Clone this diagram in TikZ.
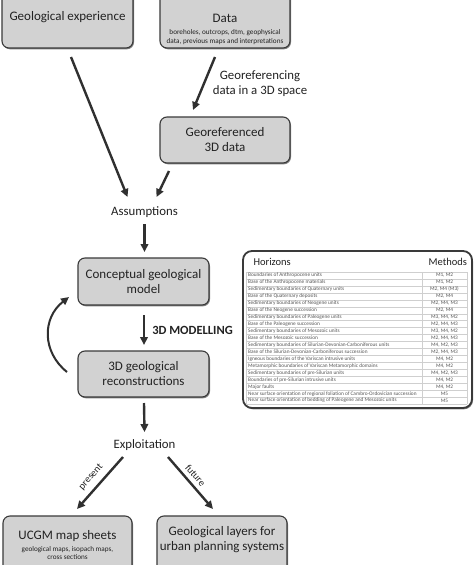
\documentclass[tikz,border=0pt]{standalone}
\usepackage{fontspec}
\setmainfont{Carlito}
\usetikzlibrary{arrows.meta,shadows,calc}
\definecolor{boxfill}{HTML}{D2D2D2}
\definecolor{boxline}{HTML}{3A3A3A}
\definecolor{arr}{HTML}{303030}
\definecolor{gridc}{HTML}{CFCFCF}
\definecolor{txt}{HTML}{222222}
\definecolor{ttxt}{HTML}{555555}
\begin{document}
\begin{tikzpicture}[x=1pt,y=-1pt,
  box/.style={draw=boxline, fill=boxfill, line width=1.1pt, rounded corners=7pt,
    drop shadow={shadow xshift=1pt, shadow yshift=-1.3pt, fill=black!70, opacity=0.7}},
  big/.style={font=\fontsize{13}{15}\selectfont, align=center, text=txt},
  small/.style={font=\fontsize{7.2}{8.5}\selectfont, align=center, text=txt},
  lbl/.style={font=\fontsize{12.8}{15}\selectfont, align=center, text=txt},
  arlbl/.style={font=\fontsize{10}{12}\selectfont, text=txt},
  arrow/.style={draw=arr, line width=2.4pt, -{Triangle[length=8pt,width=7.5pt]}},
  tt/.style={font=\fontsize{5.3}{6}\selectfont, text=ttxt, inner sep=0pt},
  gridline/.style={draw=gridc, line width=0.4pt}]
\useasboundingbox (0,0) rectangle (474,565);
\fill[white] (0,0) rectangle (474,565);

% top boxes
\node[box, big, minimum width=131, minimum height=62] (geo) at (67.5,17) {Geological experience};
\node[box, minimum width=130, minimum height=62] (data) at (225,17) {};
\node[big] (datat) at (225,18) {Data};
\node[small] (datas) at (225,37) {boreholes, outcrops, dtm, geophysical\\data, previous maps and interpretations};

\node[lbl] (georeflbl) at (260,83.5) {Georeferencing\\data in a 3D space};
\node[box, big, minimum width=130, minimum height=46] (georef) at (225,140) {Georeferenced\\3D data};

\node[lbl] (assump) at (144.5,212) {Assumptions};

\node[box, big, minimum width=131, minimum height=47] (concept) at (143.5,281.5) {Conceptual geological\\model};
\node[font=\fontsize{12.5}{14}\selectfont\bfseries, text=txt] (mod) at (192.5,330) {3D MODELLING};
\node[box, big, minimum width=131, minimum height=46] (recon) at (143.5,374) {3D geological\\reconstructions};

\node[lbl] (exploit) at (144.5,445) {Exploitation};

\node[box, minimum width=129, minimum height=56] (ucgm) at (67.5,544) {};
\node[big] (ucgmt) at (67.5,536) {UCGM map sheets};
\node[small] (ucgms) at (67.5,553) {geological maps, isopach maps,\\cross sections};
\node[box, big, minimum width=130, minimum height=56] (layers) at (222,544) {};
\node[big] (layerst) at (222,539.5) {Geological layers for\\urban planning systems};

% arrows
\draw[arrow] ($(geo.center)+(3.5,40)$) -- ($(assump.center)+(-17,-15)$);
\draw[arrow] ($(data.center)+(-10,40)$) -- ($(georef.center)+(-32,-30)$);
\draw[arrow] ($(georef.center)+(-56,31)$) -- ($(assump.center)+(12,-15)$);
\draw[arrow] ($(assump.center)+(0,12)$) -- ($(concept.center)+(1,-29.5)$);
\draw[arrow] ($(concept.center)+(0.5,33.5)$) -- ($(recon.center)+(0.5,-29)$);
\draw[arrow] ($(recon.center)+(0.5,29)$) -- ($(exploit.center)+(0,-13)$);
\draw[arrow] ($(exploit.center)+(-21.5,12)$) -- ($(ucgm.center)+(9.5,-35)$);
\draw[arrow] ($(exploit.center)+(23.5,12)$) -- ($(layers.center)+(-9,-35)$);
\draw[arrow, line width=2pt] ($(recon.center)+(-76.5,-2)$) .. controls (42,352) and (42,318) .. ($(concept.center)+(-74.5,15.5)$);

\node[arlbl, rotate=48.5] (present) at (91,477) {present};
\node[arlbl, rotate=-49] (future) at (195.5,475.5) {future};

% table
\node[draw=boxline, line width=1.8pt, rounded corners=9pt, fill=white, minimum width=229, minimum height=157,
  drop shadow={shadow xshift=1pt, shadow yshift=-1.3pt, fill=black!70, opacity=0.7}] (tbl) at (357.5,329.5) {};
\node[font=\fontsize{10.5}{12}\selectfont, text=txt, anchor=west] (hor) at (250,262) {Horizons};
\node[font=\fontsize{10.5}{12}\selectfont, text=txt, anchor=east] (meth) at (470.5,262) {Methods};
\foreach \r in {0,...,19}{
  \draw[gridline] (246,272+\r*6.95) -- (467,272+\r*6.95);
}
\draw[gridline] (246,272) -- (246,404.05);
\draw[gridline] (422,272) -- (422,404.05);
\draw[gridline] (467,272) -- (467,404.05);
\foreach \h/\m [count=\r from 0] in {
  {Boundaries of Anthropocene units}/{M1, M2},
  {Base of the Anthropocene materials}/{M1, M2},
  {Sedimentary boundaries of Quaternary units}/{M2, M4 (M3)},
  {Base of the Quaternary deposits}/{M2, M4},
  {Sedimentary boundaries of Neogene units}/{M2, M4, M3},
  {Base of the Neogene succession}/{M2, M4},
  {Sedimentary boundaries of Paleogene units}/{M3, M4, M2},
  {Base of the Paleogene succession}/{M2, M4, M3},
  {Sedimentary boundaries of Mesozoic units}/{M3, M4, M2},
  {Base of the Mesozoic succession}/{M2, M4, M3},
  {Sedimentary boundaries of Silurian-Devonian-Carboniferous units}/{M4, M2, M3},
  {Base of the Silurian-Devonian-Carboniferous succession}/{M2, M4, M3},
  {Igneous boundaries of the Variscan intrusive units}/{M4, M2},
  {Metamorphic boundaries of Variscan Metamorphic domains}/{M4, M2},
  {Sedimentary boundaries of pre-Silurian units}/{M4, M2, M3},
  {Boundaries of pre-Silurian intrusive units}/{M4, M2},
  {Major faults}/{M4, M2},
  {Near surface orientation of regional foliation of Cambro-Ordovician succession}/{M5},
  {Near surface orientation of bedding of Paleogene and Mesozoic units}/{M5}}{
  \node[tt, anchor=west] (h\r) at (248,272+\r*6.95+3.47) {\h};
  \node[tt] (m\r) at (444.5,272+\r*6.95+3.47) {\m};
}
\end{tikzpicture}
\end{document}
